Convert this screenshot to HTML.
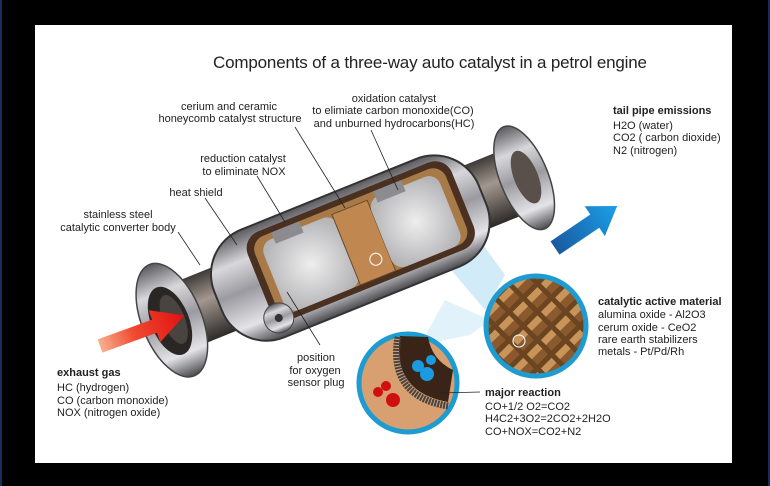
<!DOCTYPE html>
<html><head><meta charset="utf-8"><style>
html,body{margin:0;padding:0;background:#000;}
svg{display:block;}
text{font-family:"Liberation Sans",sans-serif;font-size:11px;fill:#222;}
.b{font-weight:bold;}
</style></head><body>
<svg width="770" height="486" viewBox="0 0 770 486">
<defs>
<linearGradient id="met" x1="0" y1="0" x2="0" y2="1">
<stop offset="0" stop-color="#5a5a5e"/><stop offset="0.25" stop-color="#d8d8dc"/><stop offset="0.5" stop-color="#9a9aa0"/><stop offset="0.8" stop-color="#e4e4e8"/><stop offset="1" stop-color="#4a4a4e"/></linearGradient>
<linearGradient id="neck" x1="0" y1="0" x2="0" y2="1">
<stop offset="0" stop-color="#3f3a38"/><stop offset="0.4" stop-color="#a39890"/><stop offset="1" stop-color="#2e2a28"/></linearGradient>
<radialGradient id="brick" cx="0.5" cy="0.5" r="0.6"><stop offset="0" stop-color="#eeeeee"/><stop offset="1" stop-color="#b5b5b8"/></radialGradient>
<linearGradient id="red" x1="0" y1="0" x2="1" y2="0"><stop offset="0" stop-color="#f8b090"/><stop offset="0.4" stop-color="#f04a30"/><stop offset="1" stop-color="#e01010"/></linearGradient>
<linearGradient id="blue" x1="0" y1="0" x2="1" y2="0"><stop offset="0" stop-color="#1a5aa0"/><stop offset="1" stop-color="#1aa0e8"/></linearGradient>
<pattern id="hc" width="20" height="20" patternUnits="userSpaceOnUse" patternTransform="rotate(45)"><rect width="20" height="20" fill="#6b4420"/><rect x="3" y="3" width="15" height="15" fill="#8a5a2e"/><rect x="3" y="3" width="7" height="15" fill="#c8945a"/></pattern>
</defs>
<rect x="0" y="0" width="770" height="486" fill="#000"/>
<rect x="0" y="0" width="2" height="486" fill="#1a2a5a"/>
<rect x="768" y="0" width="2" height="486" fill="#1a2a5a"/>
<rect x="35" y="25" width="697" height="438" fill="#fff"/>
<text x="213" y="68" style="font-size:17px" textLength="434">Components of a three-way  auto catalyst in a petrol  engine</text>

<polygon points="430,245 485,310 505,275 465,220" fill="#bfe3f5" opacity="0.7"/>
<polygon points="445,300 420,345 470,335 490,320" fill="#cfeaf7" opacity="0.6"/>

<g transform="translate(348,249) rotate(-22)">
<rect x="130" y="-34" width="55" height="68" fill="url(#neck)"/>
<ellipse cx="190" cy="0" rx="24" ry="55" fill="url(#met)" stroke="#444" stroke-width="1.5"/>
<ellipse cx="192" cy="0" rx="12" ry="28" fill="#5a504a"/>
<rect x="-190" y="-34" width="60" height="68" fill="url(#neck)"/>
<rect x="-140" y="-58" width="285" height="116" rx="48" fill="url(#met)" stroke="#333" stroke-width="2"/>
<rect x="-95" y="-50" width="220" height="94" rx="18" fill="#4a3020"/>
<rect x="-88" y="-44" width="206" height="82" rx="14" fill="#a87a48"/>
<rect x="-80" y="-38" width="80" height="76" rx="12" fill="url(#brick)"/>
<rect x="-2" y="-38" width="38" height="76" fill="#c08850" stroke="#6a4a2a"/>
<rect x="36" y="-38" width="74" height="76" rx="12" fill="url(#brick)"/>
<rect x="-65" y="-44" width="30" height="12" fill="#8c8c90"/>
<rect x="45" y="-44" width="30" height="12" fill="#8c8c90"/>
<circle cx="-90" cy="38" r="15" fill="url(#met)" stroke="#444"/>
<circle cx="-90" cy="38" r="4" fill="#333"/>
<circle cx="22" cy="20" r="6" fill="none" stroke="#eee" stroke-width="1.2"/>
<ellipse cx="-190" cy="0" rx="30" ry="60" fill="url(#met)" stroke="#444" stroke-width="1.5"/>
<ellipse cx="-192" cy="0" rx="19" ry="36" fill="#2a2624"/>
<ellipse cx="-188" cy="0" rx="11" ry="26" fill="#4a4440"/>
</g>

<!-- arrows -->
<g transform="translate(100,346) rotate(-20)"><polygon points="0,-7 58,-7 58,-17 90,0 58,17 58,7 0,7" fill="url(#red)"/></g>
<g transform="translate(555,248) rotate(-34)"><polygon points="0,-8 48,-8 48,-18 75,0 48,18 48,8 0,8" fill="url(#blue)"/></g>

<circle cx="536" cy="326" r="50" fill="url(#hc)" stroke="#1e9bd0" stroke-width="5"/>
<circle cx="519" cy="341" r="6" fill="none" stroke="#eee" stroke-width="1.2"/>
<circle cx="408" cy="383" r="49" fill="#d8a070" stroke="#1e9bd0" stroke-width="5"/>
<path d="M400,336 Q392,392 448,402 L453,370 Q432,360 428,337 Z" fill="#3a2418"/>
<path d="M398,337 Q388,396 448,406" fill="none" stroke="#444" stroke-width="7" stroke-dasharray="2 1"/>
<circle cx="418" cy="366" r="6" fill="#1a9be0"/><circle cx="431" cy="360" r="5" fill="#1a9be0"/><circle cx="427" cy="374" r="7" fill="#1a9be0"/>
<circle cx="378" cy="392" r="5" fill="#d01010"/><circle cx="386" cy="386" r="5" fill="#d01010"/><circle cx="393" cy="400" r="7" fill="#d01010"/>

<g stroke="#222" stroke-width="0.8">
<line x1="295" y1="127" x2="345" y2="208"/>
<line x1="371" y1="130" x2="398" y2="190"/>
<line x1="257" y1="176" x2="285" y2="222"/>
<line x1="205" y1="198" x2="237" y2="245"/>
<line x1="178" y1="232" x2="200" y2="265"/>
<line x1="320" y1="345" x2="287" y2="292"/>
<line x1="480" y1="392" x2="440" y2="393"/>
</g>

<text x="229" y="110" text-anchor="middle">cerium and ceramic</text>
<text x="230" y="122" text-anchor="middle">honeycomb catalyst structure</text>
<text x="394" y="102" text-anchor="middle">oxidation catalyst</text>
<text x="393" y="114" text-anchor="middle">to elimiate carbon monoxide(CO)</text>
<text x="394" y="127" text-anchor="middle">and unburned hydrocarbons(HC)</text>
<text x="613" y="114" class="b">tail pipe emissions</text>
<text x="613" y="129">H2O (water)</text>
<text x="613" y="141">CO2 ( carbon dioxide)</text>
<text x="613" y="154">N2 (nitrogen)</text>
<text x="243" y="162" text-anchor="middle">reduction catalyst</text>
<text x="244" y="175" text-anchor="middle">to eliminate NOX</text>
<text x="196" y="196" text-anchor="middle">heat shield</text>
<text x="118" y="218" text-anchor="middle">stainless steel</text>
<text x="118" y="231" text-anchor="middle">catalytic converter body</text>
<text x="57" y="376" class="b">exhaust gas</text>
<text x="57" y="391">HC (hydrogen)</text>
<text x="57" y="404">CO (carbon monoxide)</text>
<text x="57" y="416">NOX (nitrogen oxide)</text>
<text x="316" y="361" text-anchor="middle">position</text>
<text x="315" y="374" text-anchor="middle">for oxygen</text>
<text x="316" y="386" text-anchor="middle">sensor plug</text>
<text x="598" y="305" class="b">catalytic active material</text>
<text x="598" y="318">alumina oxide - Al2O3</text>
<text x="598" y="331">cerum oxide - CeO2</text>
<text x="598" y="343">rare earth stabilizers</text>
<text x="598" y="355">metals - Pt/Pd/Rh</text>
<text x="485" y="396" class="b">major reaction</text>
<text x="485" y="410">CO+1/2 O2=CO2</text>
<text x="485" y="422">H4C2+3O2=2CO2+2H2O</text>
<text x="485" y="435">CO+NOX=CO2+N2</text>
</svg>
</body></html>
